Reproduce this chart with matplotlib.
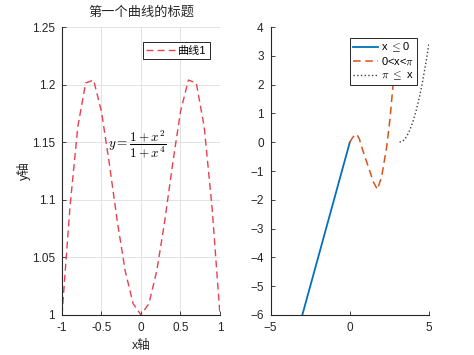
import matplotlib
matplotlib.use("Agg")
import matplotlib.pyplot as plt

plt.rcParams["font.family"] = ["Liberation Sans", "Noto Sans CJK SC", "DejaVu Sans"]
plt.rcParams["mathtext.fontset"] = "cm"

# left panel: y = (1+x^2)/(1+x^4), sampled every 0.1
x1 = [-1.0, -0.9, -0.8, -0.7, -0.6, -0.5, -0.4, -0.3, -0.2, -0.1, 0.0,
      0.1, 0.2, 0.3, 0.4, 0.5, 0.6, 0.7, 0.8, 0.9, 1.0]
y1 = [1.0, 1.093, 1.1635, 1.2015, 1.204, 1.1765, 1.131, 1.0813, 1.0383, 1.0099, 1.0,
      1.0099, 1.0383, 1.0813, 1.131, 1.1765, 1.204, 1.2015, 1.1635, 1.093, 1.0]

# right panel: piecewise curve
xa = [-3.0, 0.0]
ya = [-6.0, 0.0]
xb = [0.0, 0.15, 0.3, 0.43, 0.6, 0.75, 0.95, 1.17, 1.48, 1.74, 2.01, 2.33, 2.53, 2.75, 2.9, 3.0]
yb = [0.0, 0.14, 0.25, 0.28, 0.12, -0.16, -0.5, -0.85, -1.37, -1.64, -1.2, -0.16, 0.77, 2.1, 2.9, 3.3]
xc = [3.1416, 3.35, 3.57, 3.79, 3.99, 4.2, 4.41, 4.6, 4.73, 4.87, 5.0]
yc = [0.0, 0.04, 0.18, 0.42, 0.72, 1.12, 1.6, 2.12, 2.53, 2.97, 3.45]

spine = "#262626"

fig = plt.figure(figsize=(4.74, 3.55), dpi=100)
ax1 = fig.add_axes([0.1308, 0.1127, 0.3333, 0.811])
ax2 = fig.add_axes([0.571, 0.1127, 0.334, 0.811])

for ax in (ax1, ax2):
    for s in ("top", "right"):
        ax.spines[s].set_visible(False)
    for s in ("left", "bottom"):
        ax.spines[s].set_color(spine)
        ax.spines[s].set_linewidth(0.8)
    ax.tick_params(direction="in", length=3, width=0.6, colors=spine, labelsize=8.5, pad=5)

ax1.plot(x1, y1, color="#e8404f", linestyle="--", dashes=(5, 3), lw=1.0, label="曲线1")
ax1.set_xlim(-1, 1)
ax1.set_ylim(1, 1.25)
ax1.set_xticks([-1, -0.5, 0, 0.5, 1])
ax1.set_xticklabels(["-1", "-0.5", "0", "0.5", "1"])
ax1.set_yticks([1, 1.05, 1.1, 1.15, 1.2, 1.25])
ax1.set_yticklabels(["1", "1.05", "1.1", "1.15", "1.2", "1.25"])
ax1.grid(True, color="#dedede", lw=0.6)
ax1.set_axisbelow(True)
ax1.set_title("第一个曲线的标题", fontsize=9.5, color=spine, pad=8,
              family=["Noto Sans CJK SC"])
ax1.set_xlabel("x轴", fontsize=9, color=spine, labelpad=4)
ax1.set_ylabel("y轴", fontsize=9, color=spine, labelpad=1)
ax1.text(-0.42, 1.148, r"$y=\dfrac{1+x^2}{1+x^4}$", fontsize=9.5, va="center", ha="left")
leg1 = ax1.legend(loc="upper right", bbox_to_anchor=(0.937, 0.947), fontsize=8,
                  fancybox=False, framealpha=1, handlelength=2.6,
                  borderpad=0.3, handletextpad=0.3, borderaxespad=0)
leg1.get_frame().set_edgecolor(spine)
leg1.get_frame().set_linewidth(0.7)

ax2.plot(xa, ya, color="#0072bd", lw=1.3, label=r"x $\leq$0")
ax2.plot(xb, yb, color="#d95319", linestyle="--", dashes=(5, 3), lw=1.1, label=r"0<x<$\pi$")
ax2.plot(xc, yc, color="#404040", linestyle=":", lw=1.0, label=r"$\pi$ $\leq$ x")
ax2.set_xlim(-5, 5)
ax2.set_ylim(-6, 4)
ax2.set_xticks([-5, 0, 5])
ax2.set_yticks(range(-6, 5))
leg2 = ax2.legend(loc="upper right", bbox_to_anchor=(0.924, 0.962), fontsize=8,
                  fancybox=False, framealpha=1, handlelength=2.2,
                  borderpad=0.25, handletextpad=0.3, borderaxespad=0, labelspacing=0.15)
leg2.get_frame().set_edgecolor(spine)
leg2.get_frame().set_linewidth(0.7)

plt.savefig("out.png", dpi=100)
